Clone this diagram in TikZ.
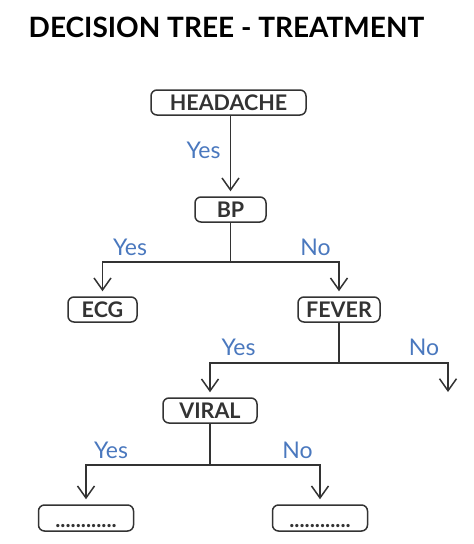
\documentclass[tikz,border=0pt]{standalone}
\usepackage{fontspec}
\setmainfont{Lato}
\usetikzlibrary{arrows.meta}
\definecolor{ink}{HTML}{333333}
\definecolor{lab}{HTML}{4A78BE}
\tikzset{
  box/.style={draw=ink, line width=1.5pt, rounded corners=6pt, text=ink,
    font=\fontsize{21.5}{23}\selectfont\bfseries, minimum height=25pt, inner sep=0pt},
  conn/.style={draw=ink, line width=1.5pt},
  arr/.style={conn, -{Straight Barb[length=12pt,width=17pt,line width=1.5pt]}, shorten >=5pt},
  arrfree/.style={conn, -{Straight Barb[length=12pt,width=17pt,line width=1.5pt]}},
  lbl/.style={text=lab, font=\fontsize{23}{25}\selectfont, inner sep=0pt}
}
\begin{document}
\begin{tikzpicture}[x=1pt,y=-1pt]
\useasboundingbox (0,0) rectangle (474,544);
\node[anchor=base, text=black, font=\fontsize{28}{30}\selectfont\bfseries, inner sep=0pt] (title) at (226.5,37) {DECISION TREE - TREATMENT};

\node[box, minimum width=155pt] (head) at (228.5,102.5) {HEADACHE};
\node[box, minimum width=71pt] (bp) at (230.5,209.5) {BP};
\node[box, minimum width=69pt] (ecg) at (102.5,309.5) {ECG};
\node[box, minimum width=82pt] (fever) at (339,309.5) {FEVER};
\node[box, minimum width=94pt] (viral) at (210,410.5) {VIRAL};
\node[box, minimum width=95pt, minimum height=26pt, text height=18pt, text depth=0pt] (leaf1) at (86,518) {............};
\node[box, minimum width=95pt, minimum height=26pt, text height=18pt, text depth=0pt] (leaf2) at (320,518) {............};

\coordinate (j1) at (bp.south |- 0,262);
\coordinate (j2) at (fever.south |- 0,363);
\coordinate (j3) at (viral.south |- 0,465);
\coordinate (nend) at (448,392);

\draw[arr] (head.south -| bp.north) -- (bp.north);
\draw[conn] (bp.south) -- (j1);
\draw[arr] (j1) -| (ecg.north);
\draw[arr] (j1) -| (fever.north);
\draw[conn] (fever.south) -- (j2);
\draw[arr] (j2) -| (viral.north);
\draw[arrfree] (j2) -| (nend);
\draw[conn] (viral.south) -- (j3);
\draw[arr] (j3) -| (leaf1.north);
\draw[arr] (j3) -| (leaf2.north);

\node[lbl] (y1) at (203.5,150.5) {Yes};
\node[lbl] (y2) at (130,247) {Yes};
\node[lbl] (n2) at (315.5,247) {No};
\node[lbl] (y3) at (238.5,347) {Yes};
\node[lbl] (n3) at (424,347) {No};
\node[lbl] (y4) at (111,450) {Yes};
\node[lbl] (n4) at (297.5,450) {No};
\end{tikzpicture}
\end{document}
